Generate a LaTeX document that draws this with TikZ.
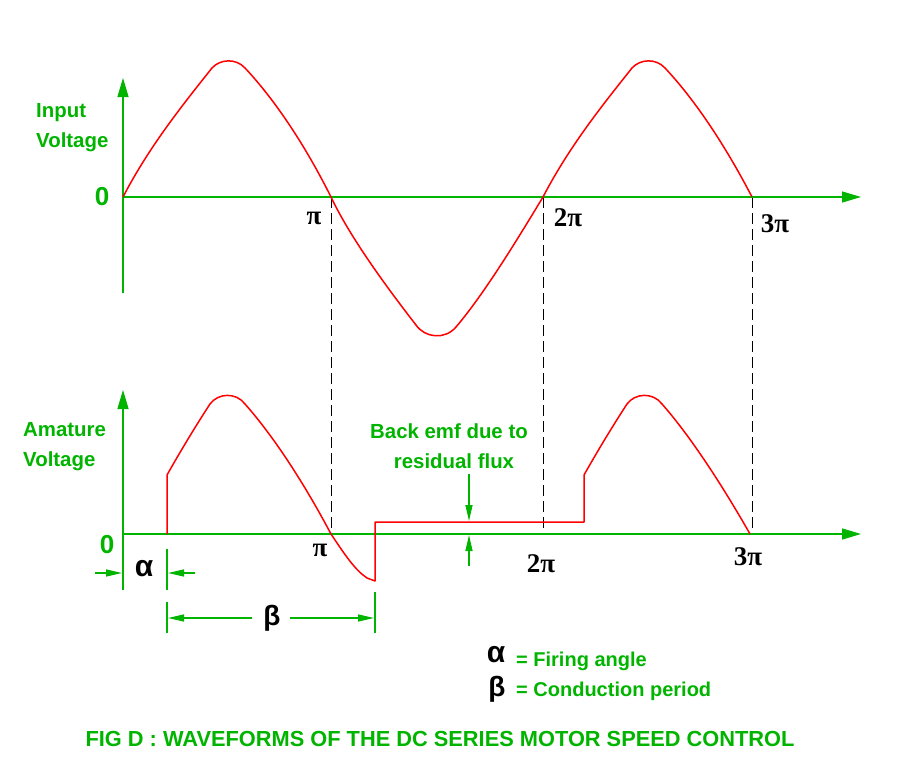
\documentclass[tikz,border=0pt]{standalone}
\usepackage{fontspec}
\setmainfont{Liberation Sans}
\newfontfamily\pifont{Liberation Serif}
\usetikzlibrary{arrows.meta}
\definecolor{gn}{RGB}{0,180,0}
\definecolor{rd}{RGB}{255,0,0}
\tikzset{
  x=1pt,y=-1pt,
  axisline/.style={draw=gn,line width=1.4pt,-{Triangle[length=19pt,width=11pt]}},
  dimline/.style={draw=gn,line width=1.3pt},
  dimarrow/.style={draw=gn,line width=1.3pt,-{Triangle[length=16pt,width=7pt]}},
  wave/.style={draw=rd,line width=1.5pt,line join=round},
  guide/.style={draw=black,line width=0.8pt,dash pattern=on 11pt off 5pt},
  lab/.style={text=gn,font=\bfseries\fontsize{20.4}{22}\selectfont,inner sep=0pt,anchor=west},
  leg/.style={text=gn,font=\bfseries\fontsize{20}{22}\selectfont,inner sep=0pt,anchor=west},
  ttl/.style={text=gn,font=\bfseries\fontsize{21.8}{24}\selectfont,inner sep=0pt},
  zero/.style={text=gn,font=\bfseries\fontsize{26}{28}\selectfont,inner sep=0pt},
  sym/.style={text=black,font=\pifont\bfseries\fontsize{27}{28}\selectfont,inner sep=0pt},
  gka/.style={text=black,font=\bfseries\fontsize{30}{32}\selectfont,inner sep=0pt},
  gkb/.style={text=black,font=\bfseries\fontsize{28}{32}\selectfont,inner sep=0pt},
}
\begin{document}
\begin{tikzpicture}
\useasboundingbox (0,0) rectangle (905,784);
\fill[white] (0,0) rectangle (905,784);
% anchors
\coordinate (o1) at (123,197);
\coordinate (x1) at (861,197);
\coordinate (yb1) at (123,293);
\coordinate (yt1) at (123,78);
\coordinate (o2) at (123,534);
\coordinate (x2) at (861,534);
\coordinate (yt2) at (123,390);
\coordinate (p1) at (331,197);
\coordinate (p2) at (543,197);
\coordinate (p3) at (752,197);
\coordinate (q1) at (331,534);
\coordinate (q2) at (543,534);
\coordinate (q3) at (752,534);
% guides
\draw[guide] (p1) -- (q1);
\draw[guide] (p2) -- (q2);
\draw[guide] (p3) -- (q3);
% axes
\draw[axisline] (o1) -- (x1);
\draw[axisline] (yb1) -- (yt1);
\draw[axisline] (o2) -- (x2);
\draw[axisline] (o2) -- (yt2);
% top wave
\draw[wave] (o1) .. controls (150,145) and (185,102) .. (212,68)
  .. controls (220,59) and (236,58) .. (245,68)
  .. controls (275,100) and (305,145) .. (p1);
\draw[wave] (p1) .. controls (350,237) and (385,285) .. (416,325)
  .. controls (425,338) and (445,340) .. (456,327)
  .. controls (485,293) and (520,235) .. (p2);
\draw[wave] (p2) .. controls (570,145) and (605,102) .. (632,68)
  .. controls (640,59) and (656,58) .. (665,68)
  .. controls (695,100) and (725,145) .. (p3);
% bottom wave
\coordinate (a1) at (167,534);
\coordinate (a2) at (167,475);
\coordinate (b1) at (375,581);
\coordinate (b2) at (375,522);
\coordinate (c1) at (584,522);
\coordinate (c2) at (584,475);
\coordinate (q3b) at (750,534);
\draw[wave] (a1) -- (a2)
  .. controls (180,452) and (195,427) .. (210,404)
  .. controls (218,393) and (236,392) .. (245,404)
  .. controls (275,438) and (305,485) .. (q1)
  .. controls (345,555) and (355,570) .. (367,578)
  -- (b1) -- (b2) -- (c1) -- (c2)
  .. controls (597,452) and (612,427) .. (627,404)
  .. controls (635,393) and (653,392) .. (662,404)
  .. controls (692,438) and (725,490) .. (q3b);
% labels
\node[lab] (inp) at (36,113) {Input};
\node[lab] (vol1) at (36,142) {Voltage};
\node[lab] (ama) at (23,430) {Amature};
\node[lab] (vol2) at (23,461) {Voltage};
\node[zero] (z1) at (102,197) {0};
\node[zero] (z2) at (107,545) {0};
\node[sym] (t1) at (314,218) {π};
\node[sym] (t2) at (568,218) {2π};
\node[sym] (t3) at (775,224) {3π};
\node[sym] (u1) at (320,550) {π};
\node[sym] (u2) at (541,564) {2π};
\node[sym] (u3) at (748,557) {3π};
\node[lab,anchor=center] (be1) at (449,431) {Back emf due to};
\node[lab,anchor=center] (be2) at (454,461) {residual flux};
% alpha
\coordinate (d1) at (123,590);
\coordinate (d2) at (167,549);
\coordinate (d3) at (167,590);
\draw[dimline] (o2) -- (d1);
\draw[dimline] (d2) -- (d3);
\coordinate (e1) at (95,573);
\coordinate (e2) at (122,573);
\coordinate (e3) at (195,573);
\coordinate (e4) at (168,573);
\draw[dimarrow] (e1) -- (e2);
\draw[dimarrow] (e3) -- (e4);
\node[gka] (al) at (144,569) {α};
% beta
\coordinate (f1) at (167,602);
\coordinate (f2) at (167,633);
\coordinate (f3) at (375,592);
\coordinate (f4) at (375,633);
\draw[dimline] (f1) -- (f2);
\draw[dimline] (f3) -- (f4);
\coordinate (g1) at (252,618);
\coordinate (g2) at (168,618);
\coordinate (g3) at (290,618);
\coordinate (g4) at (374,618);
\draw[dimarrow] (g1) -- (g2);
\draw[dimarrow] (g3) -- (g4);
\node[gkb] (be) at (272,618) {β};
% back emf
\coordinate (h1) at (469,474);
\coordinate (h2) at (469,521);
\coordinate (h3) at (469,566);
\coordinate (h4) at (469,535);
\draw[dimarrow] (h1) -- (h2);
\draw[dimarrow] (h3) -- (h4);
% legend
\node[gka] (la) at (496,655) {α};
\node[gkb] (lb) at (497,689) {β};
\node[leg] (l1) at (516,661) {= Firing angle};
\node[leg] (l2) at (516,691) {= Conduction period};
\node[ttl] (title) at (440,739) {FIG D : WAVEFORMS OF THE DC SERIES MOTOR SPEED CONTROL};
\end{tikzpicture}
\end{document}
